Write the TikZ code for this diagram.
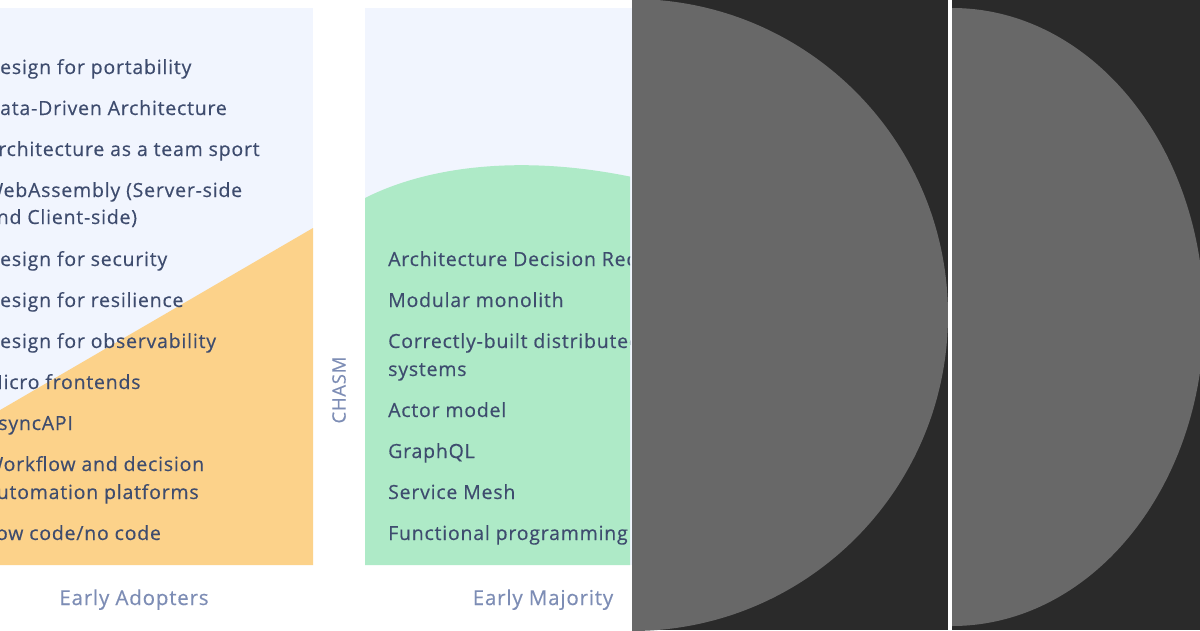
\documentclass[tikz,border=0pt]{standalone}
\usepackage{fontspec}
\setmainfont{Open Sans}[LetterSpace=4,FakeBold=0.4]
\begin{document}
\begin{tikzpicture}[x=1pt,y=-1pt,
  item/.style={anchor=base west,font=\fontsize{19.5}{27}\selectfont,text=txt,inner sep=0pt},
  lbl/.style={anchor=base,font=\fontsize{20.5}{23}\selectfont,text=lab,inner sep=0pt}]
\definecolor{panel}{HTML}{F1F5FE}
\definecolor{org}{HTML}{FCD28A}
\definecolor{grn}{HTML}{AEEAC7}
\definecolor{txt}{HTML}{3E4C6E}
\definecolor{lab}{HTML}{7D8DB5}
\definecolor{dark}{HTML}{2A2A2A}
\definecolor{disk}{HTML}{686868}
\useasboundingbox (0,0) rectangle (1200,630);
\fill[white] (0,0) rectangle (1200,630);
\begin{scope}
\clip (0,0) rectangle (1200,630);
% left panel
\fill[panel] (-5,8) rectangle (313,565);
\fill[org] (-5,413) -- (313,228) -- (313,565) -- (-5,565) -- cycle;
\begin{scope}
\clip (0,0) rectangle (313,630);
\foreach \y/\t in {74/{Design for portability},115/{Data-Driven Architecture},156/{Architecture as a team sport},197/{WebAssembly (Server-side},224/{and Client-side)},266/{Design for security},307/{Design for resilience},348/{Design for observability},389/{Micro frontends},430/{AsyncAPI},471/{Workflow and decision},499/{automation platforms},540/{Low code/no code}}
  \node[item] (l\y) at (-15,\y) {\t};
\end{scope}
\node[lbl] (ea) at (134,605) {Early Adopters};
% chasm
\node[rotate=90,font=\fontsize{18.5}{20}\selectfont,text=lab,inner sep=0pt] (ch) at (339,390) {CHASM};
% right panel
\fill[panel] (365,8) rectangle (632,565);
\begin{scope}
\clip (365,8) rectangle (630,565);
\fill[grn] (365,198) .. controls (440,160) and (560,150) .. (700,195) -- (700,565) -- (365,565) -- cycle;
\foreach \y/\t in {266/{Architecture Decision Records},307/{Modular monolith},348/{Correctly-built distributed},376/{systems},417/{Actor model},458/{GraphQL},499/{Service Mesh},540/{Functional programming}}
  \node[item] (r\y) at (388,\y) {\t};
\end{scope}
\node[lbl] (em) at (543,605) {Early Majority};
% dark area
\fill[dark] (632,0) rectangle (1200,630);
\begin{scope}
\clip (632,0) rectangle (948,630);
\fill[disk] (632,315) ellipse [x radius=316,y radius=316];
\end{scope}
\fill[white] (948,0) rectangle (952,630);
\begin{scope}
\clip (952,0) rectangle (1200,630);
\fill[disk] (952,317) ellipse [x radius=252,y radius=309];
\end{scope}
\end{scope}
\end{tikzpicture}
\end{document}
